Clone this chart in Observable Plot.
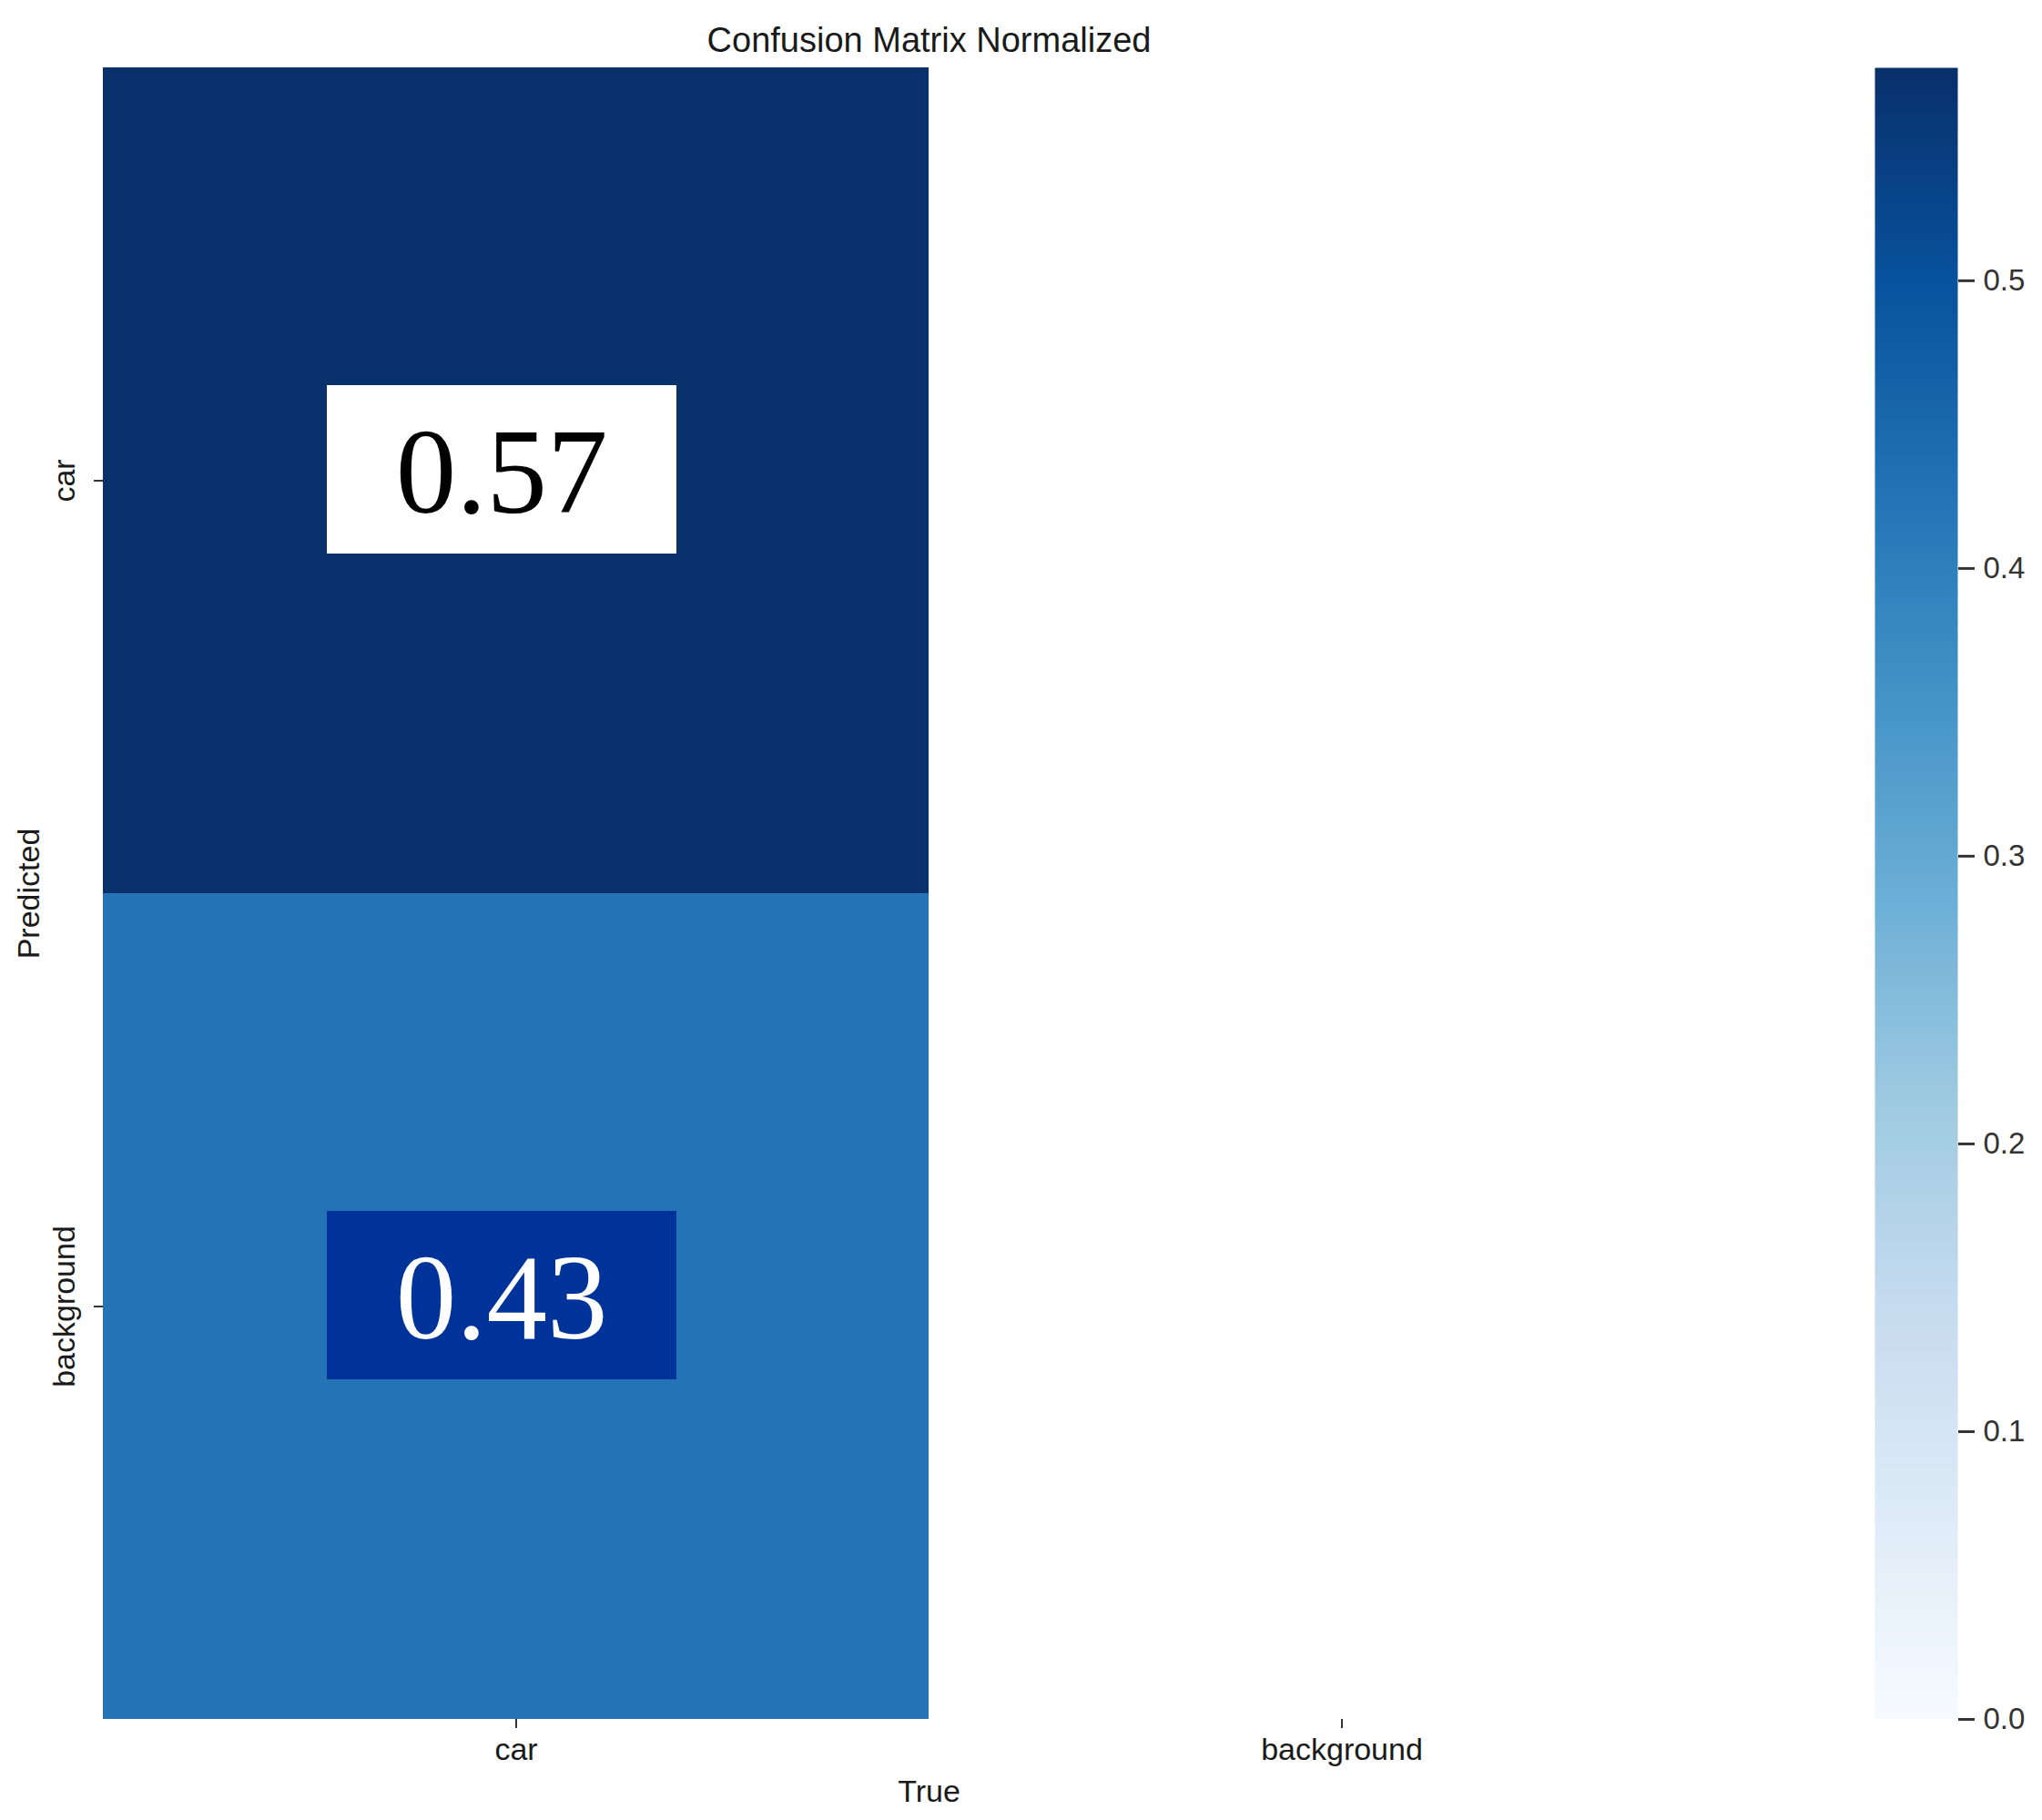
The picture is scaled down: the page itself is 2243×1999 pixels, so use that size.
<!DOCTYPE html>
<html>
<head>
<meta charset="utf-8">
<script src="https://cdn.jsdelivr.net/npm/d3@7"></script>
<script src="https://cdn.jsdelivr.net/npm/@observablehq/plot@0.6"></script>
<style>
  html, body { margin: 0; padding: 0; background: #ffffff; }
  #chart { position: relative; width: 2243px; height: 1999px; }
  #chart svg { position: absolute; left: 0; top: 0; }
</style>
</head>
<body>
<div id="chart"></div>
<script>
// ---- data ----
const title = "Confusion Matrix Normalized";
const xLabel = "True";
const yLabel = "Predicted";
const trueClasses = ["car", "background"];        // columns (x)
const predClasses = ["car", "background"];        // rows (y)
// rows = predicted, columns = true; null = empty cell
const matrixCarPred = [0.574, null];
const matrixBackgroundPred = [0.426, null];
const colorbarTicks = [0.0, 0.1, 0.2, 0.3, 0.4, 0.5];
const bluesStops = ["#f7fbff", "#deebf7", "#c6dbef", "#9ecae1", "#6baed6", "#4292c6", "#2171b5", "#08519c", "#08306b"];

// ---- build table ----
const rows = [matrixCarPred, matrixBackgroundPred];
const cells = [];
predClasses.forEach((p, i) => trueClasses.forEach((t, j) => cells.push({pred: p, true: t, v: rows[i][j]})));
const filled = cells.filter(d => d.v != null);
const vmax = d3.max(filled, d => d.v);
const fmt2 = d3.format(".2f");
const interp = d3.piecewise(d3.interpolateRgb, bluesStops);
const colorScale = {type: "linear", domain: [0, vmax], interpolate: interp};

const W = 2243, H = 1999;
const ink = "#1a1a1a";
const sans = "'Liberation Sans', Arial, sans-serif";

const main = Plot.plot({
  width: W, height: H,
  marginLeft: 113, marginRight: 316, marginTop: 74, marginBottom: 111,
  style: {background: "white", fontFamily: sans, fontSize: "34px", color: ink},
  x: {type: "band", domain: trueClasses, padding: 0, axis: null},
  y: {type: "band", domain: predClasses, padding: 0, axis: null},
  color: colorScale,
  marks: [
    Plot.cell(cells, {x: "true", y: "pred", fill: "v"}),
    // annotation boxes
    Plot.cell(filled.filter(d => d.v >= vmax), {x: "true", y: "pred", fill: "white",
      insetLeft: 246, insetRight: 277, insetTop: 349, insetBottom: 373}),
    Plot.cell(filled.filter(d => d.v < vmax), {x: "true", y: "pred", fill: "#003399",
      insetLeft: 246, insetRight: 277, insetTop: 349, insetBottom: 373}),
    Plot.text(filled, {x: "true", y: "pred", text: d => fmt2(d.v),
      fill: d => d.v >= vmax ? "black" : "white",
      fontFamily: "'Liberation Serif', 'Times New Roman', serif", fontSize: 133,
      dx: -16, dy: -8, lineAnchor: "middle", textAnchor: "middle"}),
    // axes ticks
    Plot.axisX({anchor: "bottom", tickSize: 10, tickFormat: () => "", label: null, stroke: "#333", strokeWidth: 2}),
    Plot.axisY({anchor: "left", tickSize: 10, tickFormat: () => "", label: null, stroke: "#333", strokeWidth: 2}),
    // tick labels
    Plot.text(trueClasses, {x: d => d, text: d => d, frameAnchor: "bottom", dy: 34,
      lineAnchor: "middle", fontSize: 34, fill: ink}),
    Plot.text(predClasses, {y: d => d, text: d => d, frameAnchor: "left", dx: -42, rotate: -90,
      lineAnchor: "middle", textAnchor: "middle", fontSize: 34, fill: ink}),
    // axis titles
    Plot.text([xLabel], {text: d => d, frameAnchor: "bottom", dy: 80, lineAnchor: "middle", fontSize: 34, fill: ink}),
    Plot.text([yLabel], {text: d => d, frameAnchor: "left", dx: -81, rotate: -90, lineAnchor: "middle", textAnchor: "middle", fontSize: 34, fill: ink}),
    Plot.text([title], {text: d => d, frameAnchor: "top", dy: -30, lineAnchor: "middle", fontSize: 38, fill: ink})
  ]
});

const colorbar = Plot.plot({
  width: W, height: H,
  marginLeft: 2059, marginRight: 93, marginTop: 74, marginBottom: 111,
  style: {background: "transparent", fontFamily: sans, fontSize: "33px", color: ink},
  x: {domain: [0, 1], axis: null},
  y: {domain: [0, vmax], axis: null},
  color: colorScale,
  marks: [
    Plot.raster({x1: 0, x2: 1, y1: 0, y2: vmax, width: 2, height: 512, fill: (x, y) => y, imageRendering: "auto"}),
    Plot.axisY({anchor: "right", ticks: colorbarTicks, tickSize: 18, tickPadding: 10,
      tickFormat: d3.format(".1f"), label: null, stroke: "#333", strokeWidth: 3, fill: "#333", fontSize: 33})
  ]
});

const el = document.getElementById("chart");
el.appendChild(main);
el.appendChild(colorbar);
</script>
</body>
</html>
